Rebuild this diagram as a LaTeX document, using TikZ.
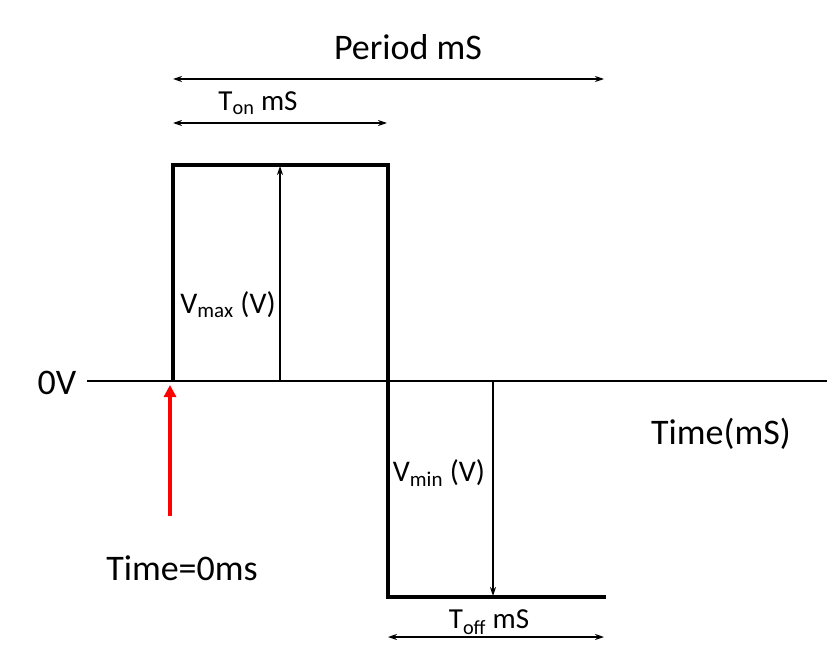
\documentclass[tikz,border=0pt]{standalone}
\usepackage{fontspec}
\setmainfont{Carlito}
\usetikzlibrary{arrows.meta}
\begin{document}
\begin{tikzpicture}[x=1pt,y=-1pt,
  lbl/.style={inner sep=0pt,font=\fontsize{30}{36}\selectfont},
  big/.style={inner sep=0pt,font=\fontsize{36}{42}\selectfont},
  dim/.style={line width=1.3pt,{Stealth[length=9pt,width=6pt]}-{Stealth[length=9pt,width=6pt]}},
  vec/.style={line width=1.3pt,-{Stealth[length=9pt,width=6pt]}}]
\useasboundingbox (0,0) rectangle (827,666);
\coordinate (axL) at (87,381); \coordinate (axR) at (827,381);
\draw[line width=2.8pt] (axL) -- (axR);
\coordinate (p0) at (173,381); \coordinate (p1) at (173,165); \coordinate (p2) at (388,165);
\coordinate (p3) at (388,597); \coordinate (p4) at (606,597);
\draw[line width=4pt] (p0) -- (p1) -- (p2) -- (p3) -- (p4);
\coordinate (vx0) at (280,381); \coordinate (vx1) at (280,166);
\draw[vec] (vx0) -- (vx1);
\coordinate (vn0) at (493,381); \coordinate (vn1) at (493,596);
\draw[vec] (vn0) -- (vn1);
\coordinate (pa) at (173,79); \coordinate (pb) at (604,79);
\draw[dim] (pa) -- (pb);
\coordinate (ta) at (173,123); \coordinate (tb) at (387,123);
\draw[dim] (ta) -- (tb);
\coordinate (fa) at (388,637); \coordinate (fb) at (604,637);
\draw[dim] (fa) -- (fb);
\node[big] (period) at (408,47) {Period mS};
\node[lbl,font=\fontsize{29}{34}\selectfont] (ton) at (258,103) {T\textsubscript{on} mS};
\node[lbl,font=\fontsize{29}{34}\selectfont] (toff) at (489,622) {T\textsubscript{off} mS};
\node[big] (zero) at (57,383) {0V};
\node[big] (time) at (721,434) {Time(mS)};
\node[lbl] (vmax) at (228,305) {V\textsubscript{max} (V)};
\node[lbl] (vmin) at (439,473) {V\textsubscript{min} (V)};
\coordinate (ra) at (170,516); \coordinate (rb) at (170,385);
\draw[red,line width=4pt,-{Triangle[length=12pt,width=12pt]}] (ra) -- (rb);
\node[big] (t0) at (182,568) {Time=0ms};
\end{tikzpicture}
\end{document}
